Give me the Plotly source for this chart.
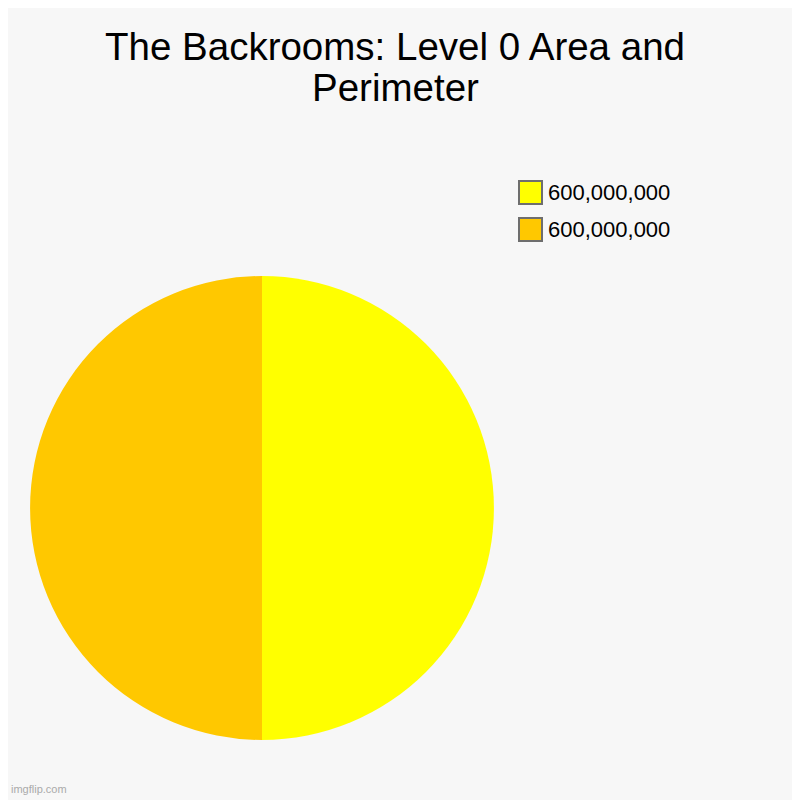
import plotly.graph_objects as go

labels = ["600,000,000", "600,000,000 "]
values = [600000000, 600000000]
colors = ["#FFFF00", "#FFC800"]
title_lines = ["The Backrooms: Level 0 Area and", "Perimeter"]

W = H = 792          # page body has an 8px margin
OFF = 8

def px(x):
    return (x - OFF) / W

def py(y):
    return 1 - (y - OFF) / H

fig = go.Figure(go.Pie(
    labels=labels, values=values, sort=False, direction="clockwise", rotation=0,
    marker=dict(colors=colors, line=dict(width=0)),
    textinfo="none", hoverinfo="label+value", showlegend=False,
    domain=dict(x=[px(30), px(494)], y=[py(740), py(276)]),
))

annotations = []
for i, line in enumerate(title_lines):
    annotations.append(dict(text=line, x=px(395), y=py(46 + 41.5 * i), xref="paper", yref="paper",
                            xanchor="center", yanchor="middle", showarrow=False,
                            font=dict(size=38.5, color="#000000")))
shapes = []
for i, (lab, col) in enumerate(zip(labels, colors)):
    top = 181 + 37 * i
    shapes.append(dict(type="rect", xref="paper", yref="paper",
                       x0=px(519), x1=px(542), y0=py(top + 23), y1=py(top),
                       fillcolor=col, line=dict(color="#6E6E6E", width=2)))
    annotations.append(dict(text=lab.strip(), x=px(546), y=py(top + 11.5), xref="paper", yref="paper",
                            xanchor="left", yanchor="middle", showarrow=False,
                            font=dict(size=22, color="#000000")))
annotations.append(dict(text="imgflip.com", x=px(9), y=py(789), xref="paper", yref="paper",
                        xanchor="left", yanchor="middle", showarrow=False,
                        font=dict(size=11, color="#AAAAAA")))

fig.update_layout(
    width=W, height=H,
    paper_bgcolor="#F7F7F7", plot_bgcolor="#F7F7F7",
    margin=dict(l=0, r=0, t=0, b=0),
    font=dict(family="Liberation Sans, Arial, sans-serif", color="#000000"),
    showlegend=False,
    annotations=annotations, shapes=shapes,
)
fig.write_html("out.html")
